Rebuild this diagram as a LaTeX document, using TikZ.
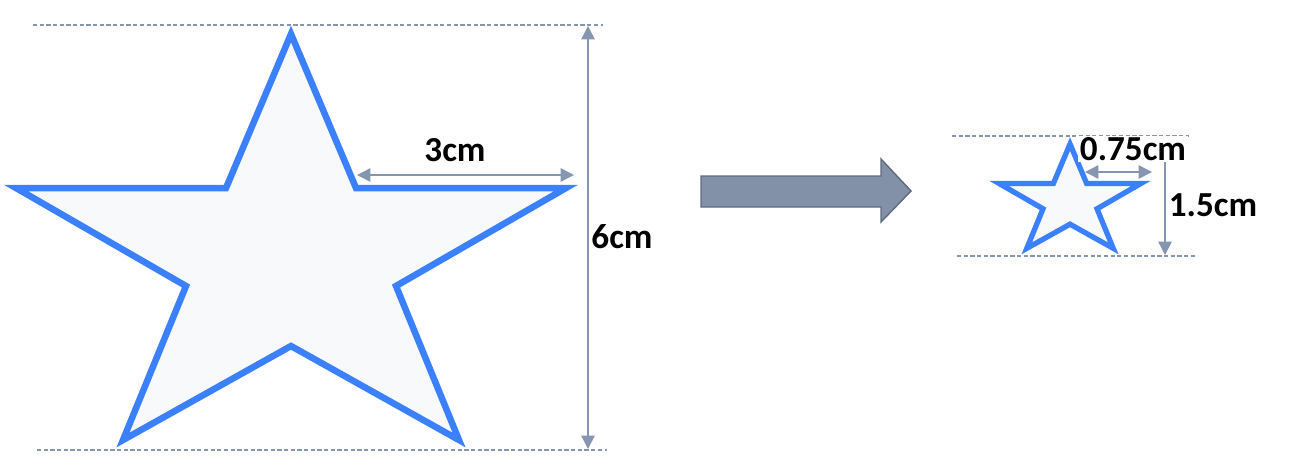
\documentclass[tikz,border=0pt]{standalone}
\usepackage{fontspec}
\setmainfont{Carlito}
\usetikzlibrary{arrows.meta,positioning}
\definecolor{starblue}{RGB}{58,128,255}
\definecolor{starfill}{RGB}{247,249,251}
\definecolor{dimgray}{RGB}{132,150,176}
\definecolor{arrowfill}{RGB}{131,145,168}
\definecolor{arrowline}{RGB}{95,107,127}
\tikzset{starline/.style={draw=starblue,fill=starfill,line join=miter}}
\tikzset{guide/.style={draw=dimgray,line width=0.6pt,dash pattern=on 2.4pt off 1.4pt}}
\tikzset{dimline/.style={draw=dimgray,line width=0.85pt,
  {Triangle[length=7.6pt,width=7.6pt,fill=dimgray]}-{Triangle[length=7.6pt,width=7.6pt,fill=dimgray]}}}
\tikzset{dimlabel/.style={font=\bfseries\fontsize{20}{20}\selectfont,inner sep=0pt}}

\begin{document}
\begin{tikzpicture}[x=0.02cm,y=-0.02cm]
\useasboundingbox (0,0) rectangle (1293,471);
% large star
\draw[starline,line width=3.7pt] (291,34) -- (356,188) -- (566,188) -- (396,286)
  -- (459,440) -- (291,346) -- (123,440) -- (186,286) -- (16,188) -- (226,188) -- cycle;
%
\coordinate (bt1) at (33,25);   \coordinate (bt2) at (603,25);
\coordinate (bb1) at (37,450);  \coordinate (bb2) at (607,450);
\draw[guide] (bt1) -- (bt2);
\draw[guide] (bb1) -- (bb2);
\coordinate (bv1) at (588,26);  \coordinate (bv2) at (588,449);
\coordinate (bh1) at (357,175); \coordinate (bh2) at (574,175);
\draw[dimline] (bv1) -- (bv2);
\draw[dimline] (bh1) -- (bh2);
\node (w) [dimlabel] at (455,150) {3cm};
\node (h) [dimlabel] at (622,237) {6cm};
% block arrow
\filldraw[fill=arrowfill,draw=arrowline,line width=0.8pt] (701,176) -- (881,176) -- (881,159)
  -- (911,191) -- (881,222) -- (881,207) -- (701,207) -- cycle;
% small star
\draw[starline,line width=3pt] (1070,144) -- (1086.7,183.6) -- (1140.7,183.6) -- (1097,208.8)
  -- (1113.2,248.3) -- (1070,224.2) -- (1026.8,248.3) -- (1043,208.8) -- (999.3,183.6)
  -- (1053.3,183.6) -- cycle;
%
\coordinate (st1) at (952,136);  \coordinate (st2) at (1189,136);
\coordinate (sb1) at (957,256);  \coordinate (sb2) at (1195,256);
\draw[guide] (st1) -- (st2);
\draw[guide] (sb1) -- (sb2);
\coordinate (sv1) at (1165,137); \coordinate (sv2) at (1165,255);
\coordinate (sh1) at (1085,172); \coordinate (sh2) at (1152,172);
\draw[dimline] (sv1) -- (sv2);
\draw[dimline] (sh1) -- (sh2);
\node (sw) [dimlabel,fill=white,inner sep=1pt] at (1133,149) {0.75cm};
\node (sh) [dimlabel] at (1213,205) {1.5cm};
\end{tikzpicture}
\end{document}
